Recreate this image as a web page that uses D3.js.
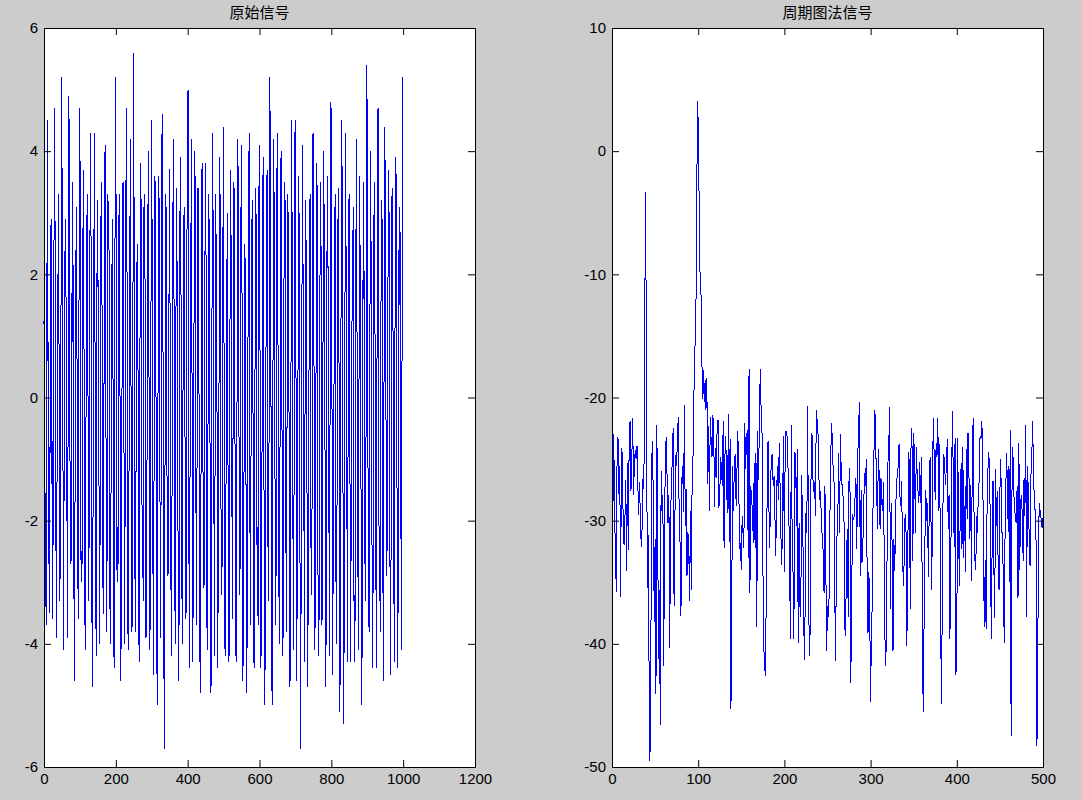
<!DOCTYPE html>
<html><head><meta charset="utf-8">
<script src="https://cdn.jsdelivr.net/npm/d3@7"></script>
<style>
html,body{margin:0;padding:0;background:#cccccc;}
svg{display:block;}
</style></head><body>
<svg id="chart" width="1082" height="800"></svg>
<script>
// Original signal, samples 0..999
const signalValues = [
1.2,2.5,-0.3,-1.8,-3.4,-2.6,-3.7,0.4,1.9,2.6,
4.5,0.6,0.9,-2.7,-1.9,-3.5,-0.8,-0.9,2.8,1.7,
2.9,1.6,-1.4,-0.7,-3.6,-1.5,-2.4,1.3,2.7,4.7,
3.4,2.6,0.2,-2.5,-2.1,-3.9,-1.4,-1.3,2.0,1.5,
3.3,1.2,0.8,-1.6,-3.3,-2.7,-2.3,1.4,1.7,5.2,
3.8,3.2,-1.0,-1.2,-4.1,-2.2,-1.5,-1.1,1.8,2.9,
2.1,2.4,-0.3,-2.0,-1.7,-3.9,-3.4,-0.4,1.6,4.9,
4.3,1.8,-0.1,-2.4,-2.6,-2.7,-2.5,1.7,0.8,3.5,
2.7,2.0,-0.5,-1.8,-4.4,-4.6,-1.8,-1.5,2.4,2.0,
1.7,3.1,0.4,-1.9,-1.9,-3.6,-2.5,-0.6,3.6,3.2,
4.7,1.4,1.3,-2.6,-3.0,-2.5,-2.7,0.1,1.1,3.7,
2.8,2.3,-1.5,-1.5,-3.6,-4.1,-1.8,-0.3,2.9,1.8,
3.3,2.4,1.5,-1.3,-2.4,-3.3,-0.8,0.9,2.5,4.3,
2.9,2.6,-1.2,-1.6,-4.7,-3.2,-3.5,-0.2,1.7,2.2,
4.3,1.5,0.9,-2.2,-2.1,-4.2,-1.7,-0.1,3.2,2.5,
1.8,1.9,-1.1,-0.9,-4.0,-2.2,-2.4,0.5,1.0,3.5,
3.4,3.4,-0.3,-3.1,-2.9,-3.5,-3.5,0.2,0.5,2.9,
4.1,1.3,1.6,-1.9,-1.8,-3.8,-1.4,-0.5,3.3,2.8,
3.1,2.4,-1.5,-1.3,-4.0,-2.7,-3.7,-0.2,1.8,1.7,
2.9,2.2,0.7,-2.3,-2.0,-4.4,-1.0,-0.1,3.5,3.2,
5.2,1.4,1.2,-2.8,-2.7,-2.1,-3.0,0.3,0.8,3.3,
2.4,2.1,-1.3,-1.9,-4.6,-3.4,-1.3,-0.5,2.6,2.6,
3.5,1.8,1.4,-1.7,-2.2,-4.0,-0.8,0.1,2.8,4.7,
3.6,2.4,-0.8,-1.1,-4.1,-2.9,-3.4,-0.4,2.0,1.6,
4.2,2.1,1.0,-2.1,-1.9,-3.8,-2.9,1.1,2.0,4.2,
5.6,1.7,0.5,-2.9,-3.0,-3.8,-1.2,-1.2,2.1,2.2,
2.5,2.0,-0.1,-1.3,-3.7,-4.3,-3.1,0.8,1.3,3.8,
3.4,1.5,0.2,-2.0,-2.8,-2.2,-3.3,0.0,3.1,3.0,
3.3,2.6,-0.5,-1.8,-3.9,-3.2,-1.1,-1.0,2.3,1.8,
4.0,1.9,1.5,-1.8,-2.1,-4.1,-2.2,1.2,1.6,4.1,
4.5,2.2,-1.1,-1.2,-4.5,-2.3,-2.2,0.5,1.1,3.6,
2.7,2.8,-0.4,-3.0,-3.5,-5.0,-2.0,-1.6,1.9,1.4,
3.6,2.0,0.8,-1.7,-2.0,-3.9,-1.3,0.2,3.8,4.6,
3.2,1.9,-1.4,-1.7,-4.4,-5.7,-5.6,-0.9,0.4,3.3,
3.0,3.0,-0.2,-2.4,-2.4,-2.9,-2.8,0.9,1.5,3.7,
3.7,1.1,0.4,-1.4,-4.2,-3.2,-1.8,-1.3,2.4,2.9,
4.2,1.7,1.6,-2.2,-1.9,-4.0,-2.9,1.1,1.8,3.4,
2.5,1.7,-0.9,-1.9,-4.6,-2.4,-3.7,-0.1,0.7,3.9,
2.9,3.4,-0.3,-2.0,-3.0,-4.0,-1.0,-0.1,2.8,2.2,
3.1,1.3,0.1,-1.1,-3.6,-2.8,-3.5,0.8,2.3,4.4,
3.1,5.0,0.0,-2.7,-2.6,-4.4,-1.4,-1.2,2.3,2.1,
4.2,0.9,0.6,-1.5,-4.3,-3.5,-3.3,1.0,1.3,4.0,
1.9,3.6,-0.5,-1.8,-2.1,-3.7,-1.2,0.1,3.4,2.8,
3.4,2.1,-1.5,-1.8,-4.0,-4.8,-2.4,-1.9,1.7,1.6,
3.8,1.8,1.3,-2.3,-1.9,-3.1,-3.0,1.2,1.7,3.8,
3.2,2.6,-1.1,-1.2,-4.1,-2.2,-2.3,0.4,1.2,3.3,
2.3,2.9,-0.4,-2.0,-3.2,-4.8,-1.8,-1.1,2.0,2.1,
4.3,2.1,0.8,-1.9,-2.3,-4.2,-1.5,-0.1,3.3,2.6,
1.8,2.0,-1.2,-1.6,-4.4,-2.6,-3.5,0.0,0.8,3.9,
3.0,3.3,0.1,-2.2,-2.0,-3.2,-2.5,0.9,1.6,4.4,
4.0,1.0,0.4,-1.3,-4.2,-3.8,-1.7,-1.3,1.9,1.8,
2.6,3.0,-0.2,-3.1,-3.1,-4.3,-3.4,1.0,1.3,3.7,
3.5,2.2,0.5,-0.6,-3.6,-2.7,-0.9,0.0,3.5,3.0,
3.4,1.9,-1.3,-2.8,-4.0,-4.3,-2.2,-1.7,2.1,1.5,
4.2,1.7,1.1,-0.7,-3.2,-3.0,-2.7,1.2,1.8,4.1,
3.5,2.7,-0.8,-1.6,-4.6,-2.6,-2.4,-1.1,2.5,2.4,
2.2,2.2,0.0,-3.2,-2.9,-4.8,-1.9,0.5,0.9,3.3,
2.7,4.3,0.3,-1.8,-2.5,-3.7,-1.6,0.1,2.9,2.8,
3.2,2.5,-0.5,-1.5,-4.1,-4.4,-2.6,-1.2,2.0,1.7,
3.4,1.9,1.3,-2.4,-2.1,-2.8,-3.7,1.0,2.2,4.1,
3.4,2.3,-1.2,-1.1,-4.4,-3.6,-0.9,-1.0,2.4,2.3,
3.9,1.5,0.8,-3.3,-3.4,-5.0,-3.5,-0.1,0.3,3.4,
1.9,3.7,-0.4,-0.5,-3.3,-2.9,-2.8,1.3,2.5,5.2,
3.1,2.1,0.0,-3.1,-3.6,-5.0,-2.2,-1.8,1.9,1.4,
4.2,2.0,1.2,-0.8,-3.7,-2.6,-2.9,1.1,1.7,4.3,
3.3,2.8,-0.9,-2.7,-2.9,-4.0,-1.1,-1.3,2.6,2.7,
4.0,1.2,1.5,-1.6,-4.2,-3.2,-3.9,0.9,1.4,3.5,
2.1,3.2,-1.0,-2.1,-2.6,-3.8,-1.3,0.0,3.3,3.0,
3.0,2.0,0.1,-1.8,-4.7,-4.6,-3.1,-0.2,0.8,3.0,
4.5,1.7,0.9,-2.3,-2.1,-4.1,-1.9,1.2,2.3,4.5,
3.2,2.5,-0.8,-1.5,-4.6,-2.5,-2.4,0.3,0.9,3.6,
2.3,3.0,-0.1,-3.4,-3.5,-5.7,-2.1,-1.2,1.8,1.9,
4.1,2.4,0.7,-1.7,-2.2,-4.3,-1.6,0.2,3.2,2.6,
2.5,2.2,-1.5,-1.7,-4.7,-2.8,-3.7,-0.5,0.6,2.9,
3.1,3.3,-0.4,-2.4,-2.5,-3.2,-2.7,1.1,2.0,4.3,
3.4,1.3,0.3,-1.4,-4.1,-3.5,-0.9,-1.0,2.7,2.3,
3.8,1.0,1.2,-3.3,-3.0,-4.2,-3.4,0.0,0.7,3.3,
2.9,3.5,-0.9,-0.6,-3.7,-2.6,-2.9,1.5,1.6,4.0,
2.6,2.1,-0.3,-1.7,-4.7,-4.5,-2.2,-1.2,2.4,2.1,
3.6,1.6,0.1,-2.2,-2.0,-4.2,-1.2,1.0,2.4,4.8,
3.7,2.6,-0.6,-1.3,-4.5,-2.6,-3.1,-0.1,0.6,3.1,
2.7,3.3,1.4,-3.0,-2.7,-4.0,-1.3,-0.5,2.9,2.5,
3.4,1.4,-1.0,-1.1,-5.1,-3.0,-3.7,1.3,2.1,4.5,
3.5,2.0,0.2,-3.2,-3.4,-5.3,-1.9,-1.7,1.7,1.8,
4.3,2.2,0.9,-2.0,-2.2,-4.3,-2.9,1.2,1.9,3.2,
3.3,2.4,-1.4,-1.5,-4.3,-2.3,-1.1,-0.9,2.6,2.2,
2.5,3.1,-0.1,-3.3,-3.2,-4.3,-3.6,0.8,0.8,3.4,
4.2,1.5,0.6,-1.9,-2.5,-4.1,-1.4,0.0,3.6,2.9,
2.4,2.2,-1.3,-1.6,-4.6,-5.0,-3.2,-1.3,1.9,1.6,
3.5,2.0,1.1,-0.9,-3.3,-3.1,-3.0,1.1,2.3,5.4,
3.6,2.7,-0.9,-2.8,-2.8,-3.8,-1.0,-1.2,2.5,2.4,
4.0,0.9,1.2,-1.7,-4.4,-3.4,-3.5,0.5,0.9,3.3,
2.2,3.5,-0.6,-1.8,-2.3,-4.4,-1.7,-0.1,3.4,3.1,
4.7,0.7,0.1,-2.9,-3.3,-2.7,-3.8,-0.2,0.7,3.2,
2.9,3.2,-0.4,-0.8,-3.5,-4.6,-1.4,1.0,1.6,4.4,
3.2,1.4,0.3,-2.7,-2.9,-2.2,-2.5,-1.4,2.6,2.3,
3.7,2.5,0.0,-1.8,-4.5,-3.5,-3.3,0.4,0.6,3.4,
3.0,2.2,0.6,-2.1,-2.4,-4.3,-1.5,0.1,3.2,2.7,
3.9,0.8,-0.5,-1.6,-4.4,-3.7,-3.4,-1.3,2.4,1.5,
1.9,3.1,1.2,-2.3,-2.0,-4.1,-1.3,1.0,2.1,5.2
];

// Periodogram (dB), bins 0..500
const periodogramValues = [
-26.5,-29.6,-23.0,-29.4,-32.6,-35.8,-23.2,-23.4,-27.8,-25.6,
-36.2,-24.1,-24.6,-30.3,-32.0,-29.8,-26.7,-34.1,-25.3,-32.4,
-22.6,-21.9,-27.6,-24.9,-21.7,-27.9,-25.3,-24.3,-25.0,-23.9,
-27.2,-29.5,-26.9,-30.3,-32.1,-30.5,-26.5,-27.4,-13.4,-3.3,
-19.2,-35.5,-31.2,-42.2,-49.5,-42.8,-25.2,-23.5,-29.0,-38.2,
-31.5,-44.1,-22.2,-30.8,-41.2,-35.6,-46.6,-26.0,-29.2,-27.9,
-41.8,-30.5,-24.1,-23.2,-26.8,-30.2,-27.9,-40.3,-28.7,-27.9,
-24.4,-22.5,-36.9,-29.6,-24.7,-25.6,-22.8,-21.6,-30.6,-31.9,
-37.7,-26.7,-25.6,-29.3,-20.6,-30.4,-27.4,-34.5,-30.9,-31.9,
-36.5,-29.2,-35.6,-26.4,-24.7,-19.8,-16.7,-13.8,-9.9,4.1,
2.4,-3.5,-9.8,-10.3,-15.6,-20.1,-17.8,-20.4,-18.6,-21.0,
-18.4,-27.0,-22.3,-29.2,-21.6,-23.5,-24.8,-21.4,-22.6,-28.9,
-24.1,-26.5,-22.2,-21.8,-29.0,-28.0,-24.8,-25.8,-27.2,-21.9,
-32.2,-24.8,-23.1,-27.5,-29.4,-21.3,-31.7,-23.4,-45.3,-35.5,
-25.6,-29.2,-25.0,-24.6,-28.8,-25.8,-22.7,-26.8,-32.3,-31.8,
-34.0,-29.6,-31.0,-32.2,-22.1,-25.8,-23.3,-22.6,-33.0,-17.7,
-35.9,-27.2,-28.3,-29.4,-31.8,-25.3,-32.2,-24.5,-38.6,-22.7,
-26.7,-22.1,-17.7,-21.1,-22.6,-33.2,-40.1,-41.8,-42.6,-35.6,
-27.7,-23.5,-28.8,-32.2,-26.9,-24.8,-24.6,-27.2,-26.4,-29.6,
-32.9,-27.6,-25.6,-28.3,-23.7,-27.2,-31.3,-33.6,-28.1,-23.1,
-34.2,-23.0,-22.7,-23.1,-25.0,-28.8,-33.3,-39.6,-22.2,-31.5,
-34.2,-39.6,-24.5,-24.6,-30.4,-24.2,-39.9,-30.2,-36.9,-37.8,
-26.3,-29.9,-33.7,-41.3,-37.5,-29.4,-31.0,-20.7,-35.3,-41.0,
-38.6,-25.0,-22.9,-26.5,-27.7,-26.9,-29.6,-21.0,-21.9,-23.0,
-26.4,-28.3,-27.6,-30.4,-31.3,-32.6,-35.9,-27.2,-33.2,-40.6,
-36.9,-37.8,-35.9,-28.6,-24.0,-22.1,-25.3,-25.8,-27.7,-41.4,
-36.4,-31.3,-29.6,-24.5,-31.0,-23.0,-26.3,-27.2,-28.0,-28.6,
-38.6,-39.4,-33.2,-30.7,-37.8,-26.4,-25.7,-43.2,-36.9,-29.5,
-29.9,-29.6,-28.0,-26.5,-32.3,-25.0,-22.7,-20.4,-34.5,-27.5,
-33.4,-32.1,-28.8,-26.1,-27.2,-25.0,-34.5,-39.1,-34.2,-37.5,
-44.7,-38.6,-36.7,-27.2,-24.1,-21.0,-24.0,-27.3,-30.7,-24.2,
-26.4,-30.7,-26.5,-28.6,-29.2,-26.9,-34.5,-41.8,-40.5,-33.7,
-25.4,-24.4,-20.8,-37.2,-28.6,-32.1,-40.6,-31.5,-34.1,-29.6,
-26.9,-26.3,-25.6,-23.8,-28.0,-28.8,-26.8,-32.5,-35.3,-33.2,
-29.5,-30.2,-40.2,-35.3,-24.4,-25.4,-37.2,-22.5,-23.5,-33.3,
-22.9,-25.2,-31.0,-24.0,-26.1,-27.6,-28.6,-25.2,-28.6,-24.8,
-38.2,-45.5,-38.6,-31.8,-27.5,-30.0,-28.6,-34.6,-29.2,-24.8,
-29.6,-35.6,-24.8,-21.7,-26.1,-28.3,-23.7,-24.8,-21.7,-29.2,
-23.8,-33.7,-44.9,-38.2,-28.6,-24.6,-25.8,-27.1,-25.2,-23.4,
-30.7,-27.9,-39.6,-33.4,-26.4,-21.1,-27.2,-32.1,-23.3,-42.5,
-40.2,-23.3,-30.2,-35.3,-29.2,-25.3,-32.3,-24.0,-33.0,-28.8,
-34.2,-24.2,-29.9,-22.9,-25.6,-31.5,-27.1,-34.9,-24.4,-21.7,
-29.6,-33.2,-34.0,-29.6,-31.0,-27.6,-26.7,-23.1,-23.4,-21.9,
-24.5,-33.8,-38.6,-33.2,-38.8,-29.6,-26.1,-24.4,-25.8,-31.0,
-39.6,-31.9,-26.8,-33.7,-37.9,-25.8,-30.4,-27.6,-34.0,-35.6,
-27.6,-25.0,-30.2,-31.9,-34.5,-39.9,-31.0,-26.8,-24.5,-29.9,
-25.6,-35.0,-22.6,-47.5,-27.7,-24.0,-27.7,-28.8,-29.9,-30.2,
-27.2,-36.3,-23.7,-34.0,-28.6,-27.9,-29.6,-33.3,-26.5,-29.6,
-22.2,-37.8,-25.6,-27.7,-31.5,-33.7,-26.4,-24.8,-21.9,-26.4,
-28.3,-29.4,-31.8,-48.3,-40.2,-30.3,-28.6,-29.6,-29.9,-30.6,
-29.8
];

const leftXTicks = [0, 200, 400, 600, 800, 1000, 1200];
const leftYTicks = [-6, -4, -2, 0, 2, 4, 6];
const rightXTicks = [0, 100, 200, 300, 400, 500];
const rightYTicks = [-50, -40, -30, -20, -10, 0, 10];
const leftTitle = "原始信号";
const rightTitle = "周期图法信号";

const svg = d3.select("#chart");
svg.append("rect").attr("width", 1082).attr("height", 800).attr("fill", "#cccccc");

const TOP = 28, BOTTOM = 767;

function panel(x0, x1, xDomain, yDomain, xTicks, yTicks, values, title) {
  const x = d3.scaleLinear().domain(xDomain).range([x0, x1]);
  const y = d3.scaleLinear().domain(yDomain).range([BOTTOM, TOP]);
  const g = svg.append("g");
  g.append("rect").attr("x", x0).attr("y", TOP).attr("width", x1 - x0).attr("height", BOTTOM - TOP).attr("fill", "#ffffff");

  const line = d3.line().x((d, i) => x(i)).y(d => y(d));
  g.append("path").datum(values).attr("d", line)
    .attr("fill", "none").attr("stroke", "#0000ff").attr("stroke-width", 1)
    .attr("shape-rendering", "crispEdges");

  const fmt = d => String(d);
  const styleAxis = sel => {
    sel.select(".domain").remove();
    sel.attr("font-size", 15).attr("font-family", "'Liberation Sans', Arial, sans-serif");
    sel.selectAll("text").attr("fill", "#000");
    sel.selectAll("line").attr("stroke", "#000");
  };
  g.append("g").attr("transform", `translate(0,${BOTTOM})`)
    .call(d3.axisBottom(x).tickValues(xTicks).tickSizeInner(-7).tickSizeOuter(0).tickPadding(6).tickFormat(fmt))
    .call(styleAxis);
  g.append("g").attr("transform", `translate(0,${TOP})`)
    .call(d3.axisTop(x).tickValues(xTicks).tickSizeInner(-7).tickSizeOuter(0).tickFormat(""))
    .call(styleAxis);
  g.append("g").attr("transform", `translate(${x0},0)`)
    .call(d3.axisLeft(y).tickValues(yTicks).tickSizeInner(-7).tickSizeOuter(0).tickPadding(6).tickFormat(fmt))
    .call(styleAxis);
  g.append("g").attr("transform", `translate(${x1},0)`)
    .call(d3.axisRight(y).tickValues(yTicks).tickSizeInner(-7).tickSizeOuter(0).tickFormat(""))
    .call(styleAxis);

  g.append("rect").attr("x", x0 + 0.5).attr("y", TOP + 0.5).attr("width", x1 - x0).attr("height", BOTTOM - TOP)
    .attr("fill", "none").attr("stroke", "#000").attr("stroke-width", 1);

  g.append("text").attr("x", (x0 + x1) / 2).attr("y", 18).attr("text-anchor", "middle")
    .attr("font-family", "'Noto Sans CJK SC', sans-serif").attr("font-size", 15).attr("fill", "#000")
    .text(title);
}

panel(44, 475, [0, 1200], [-6, 6], leftXTicks, leftYTicks, signalValues, leftTitle);
panel(612, 1043, [0, 500], [-50, 10], rightXTicks, rightYTicks, periodogramValues, rightTitle);
</script>
</body></html>
